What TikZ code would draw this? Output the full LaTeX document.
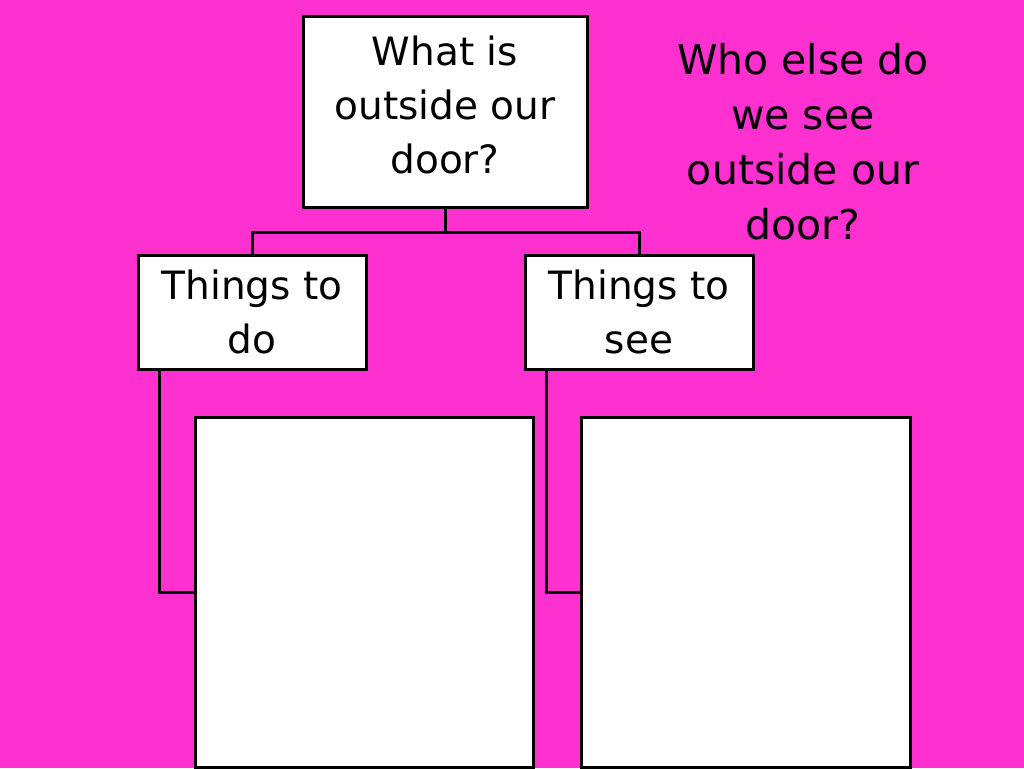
\documentclass[tikz,border=0pt]{standalone}
\usepackage{fontspec}
\setmainfont{DejaVu Sans}
\definecolor{bgpink}{RGB}{255,48,208}
\begin{document}
\begin{tikzpicture}[x=1pt,y=-1pt,
    box/.style={draw,fill=white,line width=3pt,inner sep=0pt,align=center,
      font=\fontsize{39}{54}\selectfont},
    link/.style={line width=3pt}]
  \fill[bgpink] (0,0) rectangle (1024,768);
  \useasboundingbox (0,0) rectangle (1024,768);
  \draw
    (445,112) node[box,minimum width=284pt,minimum height=190pt,text depth=14pt] (top){What is\\outside our\\door?}
    (252,312) node[box,minimum width=228pt,minimum height=114pt] (do){Things to\\do}
    (639,312) node[box,minimum width=228pt,minimum height=114pt] (see){Things to\\see}
    (364,592) node[box,minimum width=338pt,minimum height=350pt] (dobox){}
    (746,592) node[box,minimum width=329pt,minimum height=350pt] (seebox){}
    (803,142) node[align=center,font=\fontsize{41}{55}\selectfont] (who){Who else do\\we see\\outside our\\door?};
  \begin{scope}[link]
    \draw (top.south) -- ++(0,24) coordinate (fork);
    \draw (do.north) |- (fork) -| (see.north);
    \draw ([xshift=23pt]do.south west) |- (dobox.west);
    \draw ([xshift=23pt]see.south west) |- (seebox.west);
  \end{scope}
\end{tikzpicture}
\end{document}
